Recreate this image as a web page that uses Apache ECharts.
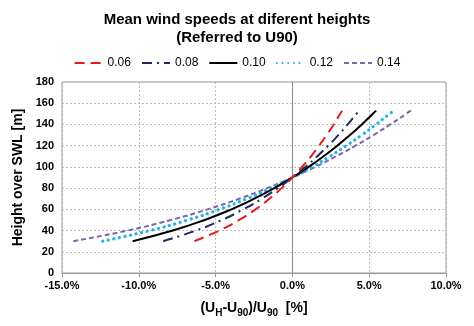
<!DOCTYPE html>
<html><head><meta charset="utf-8">
<script src="https://cdn.jsdelivr.net/npm/echarts@6/dist/echarts.min.js"></script>
<style>html,body{margin:0;padding:0;background:#fff}#c{width:474px;height:326px}</style>
</head><body><div id="c"></div>
<script>
const heights = [30,40,50,60,70,80,90,100,110,120,130,140,150,153];
const names = ['0.06','0.08','0.10','0.12','0.14'];
const v006 = [-6.38,-4.75,-3.47,-2.40,-1.50,-0.70,0,0.63,1.21,1.74,2.23,2.69,3.11,3.23];
const v008 = [-8.41,-6.28,-4.59,-3.19,-1.99,-0.94,0,0.85,1.62,2.33,2.99,3.60,4.17,4.34];
const v010 = [-10.40,-7.79,-5.71,-3.97,-2.48,-1.17,0,1.06,2.03,2.92,3.75,4.52,5.24,5.45];
const v012 = [-12.35,-9.27,-6.81,-4.75,-2.97,-1.40,0,1.27,2.44,3.51,4.51,5.44,6.32,6.58];
const v014 = [-14.26,-10.73,-7.90,-5.52,-3.46,-1.64,0,1.49,2.85,4.11,5.28,6.38,7.41,7.71];
const xTicks = [-15,-10,-5,0,5,10];

const values = [v006,v008,v010,v012,v014];
const styles = [
  {color:'#e41a1c', width:2, type:[10,6]},
  {color:'#1b2a5a', width:2, type:[10,5,2,5]},
  {color:'#000000', width:2, type:'solid'},
  {color:'#1fb4e6', width:3.2, type:[0.1,5.6], cap:'round'},
  {color:'#7d66a6', width:2, type:[5,3]}
];
const series = values.map((vals,i)=>({
  name: names[i], type:'line', symbol:'none', smooth:true, z: 5-i,
  data: vals.map((v,j)=>[v, heights[j]]),
  lineStyle: styles[i], itemStyle:{color:styles[i].color},
  markLine: i===0 ? {silent:true, symbol:'none', label:{show:false},
    lineStyle:{color:'#888', type:'solid', width:1}, data:[{xAxis:0}]} : undefined
}));

const chart = echarts.init(document.getElementById('c'));
chart.setOption({
  animation:false,
  textStyle:{fontFamily:'Liberation Sans, Arial, sans-serif'},
  title:{text:'Mean wind speeds at diferent heights\n(Referred to U90)', left:'center', top:6,
    textStyle:{fontSize:15, fontWeight:'bold', color:'#000', lineHeight:18}},
  legend:{top:52, left:'center', itemWidth:28, itemHeight:10, itemGap:10,
    itemStyle:{opacity:0},
    textStyle:{fontSize:12, color:'#000'}},
  grid:{left:62, right:28, top:82, bottom:53, show:true, borderColor:'#999', borderWidth:1},
  xAxis:{type:'value', min:-15, max:10, interval:5,
    axisLine:{lineStyle:{color:'#999'}}, axisTick:{show:true, length:4, lineStyle:{color:'#999'}},
    axisLabel:{fontSize:11, fontWeight:'bold', color:'#000', margin:7,
      formatter:v=>v.toFixed(1)+'%'},
    splitLine:{show:true, lineStyle:{color:'#bbb', type:[2,2]}},
    name:'{a|(U}{s|H}{a|-U}{s|90}{a|)/U}{s|90}{a|  [%]}', nameLocation:'middle', nameGap:28,
    nameTextStyle:{rich:{
      a:{fontSize:14, fontWeight:'bold', color:'#000', verticalAlign:'bottom'},
      s:{fontSize:10, fontWeight:'bold', color:'#000', verticalAlign:'bottom', padding:[0,0,-3,0]}}}},
  yAxis:{type:'value', min:0, max:180, interval:20,
    axisLine:{show:true, lineStyle:{color:'#999'}}, axisTick:{show:false},
    axisLabel:{fontSize:11, fontWeight:'bold', color:'#000', margin:8},
    splitLine:{show:true, lineStyle:{color:'#bbb', type:[2,2]}},
    name:'Height over SWL [m]', nameLocation:'middle', nameGap:32, nameRotate:90,
    nameTextStyle:{fontSize:14, fontWeight:'bold', color:'#000'}},
  series: series
});
</script></body></html>
